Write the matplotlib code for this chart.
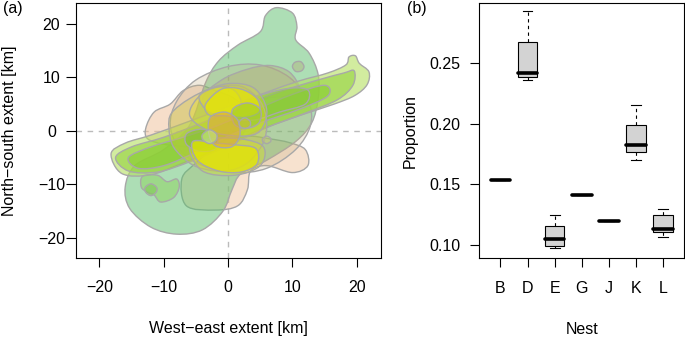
import numpy as np
import matplotlib
matplotlib.use("Agg")
import matplotlib.pyplot as plt
from matplotlib.path import Path
from matplotlib.patches import PathPatch

plt.rcParams['font.family'] = ['Liberation Sans', 'DejaVu Sans']
plt.rcParams['font.size'] = 11.5

# ---- panel (a): home-range outlines, control points in km
big_green_x = [7.5, 10.0, 10.7, 10.5, 12.6, 14.0, 14.0, 13.0, 10.5, 6.0, 2.0, 0.6, -0.8, -4.0, -8.0, -12.0, -15.3, -16.0, -14.5, -10.0, -6.0, -3.5, -1.5, 1.5, 5.0, 5.8]
big_green_y = [23.0, 22.0, 19.5, 17.0, 14.5, 10.5, 6.0, 1.5, -2.0, -5.5, -8.0, -11.0, -15.0, -18.5, -19.3, -18.0, -14.5, -10.5, -6.5, -3.5, 1.0, 9.0, 13.0, 16.0, 18.5, 21.5]

peach_a_x = [-12.8, -11.5, -9.0, -7.0, -4.5, -2.0, 1.0, 3.0, 2.0, -2.0, -6.0, -10.0, -12.5]
peach_a_y = [0.5, 3.5, 5.0, 7.5, 8.5, 7.5, 6.0, 3.0, -1.0, -3.0, -3.0, -2.5, -1.5]

peach_b_x = [-1.0, 3.0, 6.5, 9.5, 12.0, 12.4, 10.0, 6.0, 3.5, 3.0, 1.5, -2.0, -6.5, -7.2, -5.0]
peach_b_y = [-2.0, -1.0, -1.5, -2.2, -3.5, -6.5, -7.8, -6.5, -7.5, -11.0, -14.0, -14.8, -14.0, -9.0, -6.0]

tan_x = [-9.0, -8.0, -5.0, 0.0, 5.0, 9.5, 12.5, 12.8, 10.5, 6.0, 1.0, -4.0, -7.5]
tan_y = [1.0, 5.5, 9.5, 12.0, 12.3, 10.0, 5.5, 1.0, -3.5, -7.0, -7.8, -6.5, -3.5]

khaki_x = [-4.0, -1.0, 3.0, 6.5, 9.5, 11.0, 9.0, 6.0, 4.5, 2.0, -2.0]
khaki_y = [6.0, 9.5, 11.5, 12.2, 11.0, 8.0, 6.5, 6.0, 4.0, 2.0, 2.0]

knob_x = [10.0, 10.4, 11.3, 11.8, 11.4, 10.5]
knob_y = [12.0, 12.8, 12.9, 12.0, 11.2, 11.1]

lime_outer_x = [-18.2, -16.0, -12.0, -6.0, 0.0, 6.0, 11.0, 15.5, 18.3, 18.8, 19.8, 20.4, 21.9, 21.6, 19.7, 16.5, 11.0, 5.0, -1.0, -7.0, -12.0, -16.5]
lime_outer_y = [-4.3, -2.3, -0.8, 1.8, 4.5, 7.2, 9.3, 10.8, 12.3, 13.8, 14.0, 12.6, 11.0, 8.6, 6.6, 5.0, 2.8, 0.2, -3.0, -6.0, -8.2, -8.0]

lime_mid_x = [-17.5, -15.0, -10.0, -4.0, 2.0, 8.0, 14.0, 18.0, 19.6, 19.4, 17.0, 12.0, 6.0, 0.0, -6.0, -11.0, -15.5]
lime_mid_y = [-5.0, -3.0, -1.2, 1.5, 4.5, 7.3, 9.5, 10.8, 11.2, 8.5, 5.8, 3.3, 0.6, -2.8, -5.8, -7.7, -7.5]

lime_inner_x = [-15.5, -12.0, -7.0, -2.0, 4.0, 10.0, 15.0, 15.5, 11.0, 5.0, 0.0, -5.0, -10.0, -14.0]
lime_inner_y = [-5.0, -3.0, -1.2, 0.8, 3.8, 6.8, 8.5, 6.5, 4.0, 1.5, -1.0, -4.0, -6.5, -7.0]

band_x = [1.5, 6.0, 10.0, 12.5, 12.0, 8.0, 4.0, 0.5]
band_y = [5.0, 7.0, 8.0, 7.5, 5.0, 3.5, 2.0, 2.5]

small_green_x = [-13.3, -11.0, -9.5, -8.0, -7.6, -8.5, -10.5, -11.5, -12.5, -13.5]
small_green_y = [-8.5, -8.3, -9.5, -9.0, -10.5, -12.5, -13.3, -12.0, -11.5, -10.5]

dot_green_x = [-12.9, -12.0, -11.1, -11.2, -12.0, -12.8]
dot_green_y = [-10.6, -9.9, -10.6, -11.5, -12.1, -11.5]

cluster_x = [-8.8, -6.0, -2.3, 2.0, 5.0, 6.0, 5.4, 3.0, -0.2, -3.5, -6.0, -8.5, -9.2]
cluster_y = [3.3, 6.0, 8.0, 8.3, 5.5, 1.5, -2.4, -6.0, -7.5, -7.2, -6.0, -3.0, 0.5]

yellow_e_x = [-6.0, -4.0, 0.0, 4.0, 6.0, 5.0, 2.0, -3.0]
yellow_e_y = [3.0, 7.0, 8.8, 8.0, 4.0, 0.0, -1.0, 0.0]

yellow_f_x = [-6.0, -3.0, 2.0, 5.5, 5.0, 1.0, -4.0]
yellow_f_y = [-3.0, -1.5, -1.5, -3.0, -6.5, -8.3, -7.5]

yellow_a_x = [-3.5, -1.0, 2.0, 4.5, 4.8, 2.5, -0.5, -3.0]
yellow_a_y = [5.0, 7.8, 7.8, 6.0, 3.5, 2.5, 2.8, 3.0]

yellow_b_x = [-5.5, -2.0, 1.0, 4.3, 4.5, 2.0, -1.5, -4.8]
yellow_b_y = [-2.0, -2.3, -2.6, -3.3, -6.2, -7.7, -7.5, -5.5]

yellow_c_x = [-4.5, -1.5, 1.0, 2.0, 0.0, -3.0]
yellow_c_y = [6.5, 8.2, 7.5, 5.0, 3.0, 3.5]

lime_center_x = [0.7, 3.0, 5.0, 4.8, 3.0, 1.0]
lime_center_y = [4.0, 5.2, 4.0, 1.5, 0.5, 1.2]

orange_x = [-2.8, -0.5, 1.5, 1.8, 0.5, -2.0, -3.0]
orange_y = [2.5, 3.5, 2.0, -1.0, -3.0, -2.8, -0.5]

inner_green_x = [-6.4, -4.0, -1.8, -2.0, -4.5, -6.5]
inner_green_y = [-0.5, 0.3, -0.8, -3.4, -3.8, -2.5]

light_circle_x = [-4.0, -2.9, -1.8, -1.9, -2.9, -3.9]
light_circle_y = [-0.7, 0.2, -0.6, -1.8, -2.4, -1.7]

ring_a_x = [1.8, 2.6, 3.4, 3.4, 2.6, 1.8]
ring_a_y = [1.8, 2.4, 1.8, 0.9, 0.4, 0.9]

ring_b_x = [5.4, 6.0, 6.6, 6.6, 6.0, 5.4]
ring_b_y = [-1.4, -1.0, -1.4, -2.0, -2.4, -2.0]

shapes = [
    (peach_a_x, peach_a_y, '#efbf96', 0.5),
    (peach_b_x, peach_b_y, '#efbf96', 0.45),
    (big_green_x, big_green_y, '#5cbf6c', 0.5),
    (tan_x, tan_y, '#c0aa78', 0.25),
    (khaki_x, khaki_y, '#b5a36a', 0.35),
    (knob_x, knob_y, '#b5a36a', 0.35),
    (lime_outer_x, lime_outer_y, '#b5e060', 0.6),
    (lime_mid_x, lime_mid_y, '#94d23c', 0.6),
    (lime_inner_x, lime_inner_y, '#84cc2c', 0.55),
    (band_x, band_y, '#8cc83c', 0.5),
    (small_green_x, small_green_y, '#8fd45f', 0.5),
    (dot_green_x, dot_green_y, '#7cc84c', 0.5),
    (cluster_x, cluster_y, '#d0cc38', 0.35),
    (yellow_e_x, yellow_e_y, '#e6e600', 0.25),
    (yellow_f_x, yellow_f_y, '#e6e600', 0.3),
    (inner_green_x, inner_green_y, '#7cbc38', 0.5),
    (yellow_c_x, yellow_c_y, '#e2e030', 0.5),
    (yellow_a_x, yellow_a_y, '#e6e600', 0.65),
    (yellow_b_x, yellow_b_y, '#e6e600', 0.7),
    (lime_center_x, lime_center_y, '#98cc30', 0.5),
    (orange_x, orange_y, '#e0a840', 0.55),
    (light_circle_x, light_circle_y, '#c8e880', 0.6),
    (ring_a_x, ring_a_y, '#d8b840', 0.4),
    (ring_b_x, ring_b_y, '#d8d060', 0.3),
]

# ---- panel (b): proportion per nest
nests = ['B', 'D', 'E', 'G', 'J', 'K', 'L']
whis_lo = [0.1532, 0.2354, 0.0974, 0.1413, 0.1197, 0.1702, 0.1065]
q1 = [0.1532, 0.2379, 0.0993, 0.1413, 0.1197, 0.1763, 0.1106]
medians = [0.1532, 0.2418, 0.1048, 0.1413, 0.1197, 0.1826, 0.1136]
q3 = [0.1532, 0.2671, 0.1158, 0.1413, 0.1197, 0.1988, 0.1244]
whis_hi = [0.1532, 0.2923, 0.1246, 0.1413, 0.1197, 0.2153, 0.1301]


def smooth_path(xs, ys):
    # closed Catmull-Rom curve through the control points
    pts = np.column_stack([xs, ys])
    n = len(pts)
    verts = [pts[0]]
    codes = [Path.MOVETO]
    for i in range(n):
        p0, p1, p2, p3 = pts[i - 1], pts[i], pts[(i + 1) % n], pts[(i + 2) % n]
        verts += [p1 + (p2 - p0) / 6, p2 - (p3 - p1) / 6, p2]
        codes += [Path.CURVE4] * 3
    verts.append(pts[0])
    codes.append(Path.CLOSEPOLY)
    return Path(verts, codes)


fig = plt.figure(figsize=(6.85, 3.37), dpi=100)
ax1 = fig.add_axes([0.1105, 0.2353, 0.4455, 0.7547])
ax2 = fig.add_axes([0.6997, 0.2335, 0.2993, 0.7565])

ax1.axvline(0, color='#bbbbbb', lw=1, ls=(0, (4, 4)), zorder=0)
ax1.axhline(0, color='#bbbbbb', lw=1, ls=(0, (4, 4)), zorder=0)
for xs, ys, col, a in shapes:
    ax1.add_patch(PathPatch(smooth_path(xs, ys), facecolor=col, alpha=a,
                            edgecolor='none', zorder=1))
    ax1.add_patch(PathPatch(smooth_path(xs, ys), facecolor='none',
                            edgecolor='#a8a8a8', lw=1.0, zorder=1))

ax1.set_xlim(-23.7, 23.75)
ax1.set_ylim(-23.7, 23.8)
ax1.set_xticks([-20, -10, 0, 10, 20])
ax1.set_yticks([-20, -10, 0, 10, 20])
ax1.tick_params(axis='x', length=6.5, width=0.8, pad=9.5)
ax1.tick_params(axis='y', length=7, width=0.8, pad=10.5)
for lab in ax1.get_yticklabels():
    lab.set_ha('center')
ax1.set_xlabel('West\u2212east extent [km]', va='center')
ax1.set_ylabel('North\u2212south extent [km]', va='center')
ax1.xaxis.set_label_coords(0.5, -0.2775)
ax1.yaxis.set_label_coords(-0.218, 0.5)

stats = []
for i in range(len(nests)):
    stats.append(dict(label=nests[i], whislo=whis_lo[i], q1=q1[i], med=medians[i],
                      q3=q3[i], whishi=whis_hi[i], fliers=[]))
ax2.bxp(stats, positions=range(1, len(nests) + 1), widths=0.72, capwidths=0.36,
        patch_artist=True, showfliers=False,
        boxprops=dict(facecolor='#d3d3d3', edgecolor='black', lw=0.8),
        medianprops=dict(color='black', lw=2.6, solid_capstyle='round'),
        whiskerprops=dict(color='black', lw=0.8, linestyle=(0, (3, 3))),
        capprops=dict(color='black', lw=0.8))
ax2.set_xlim(0.22, 7.78)
ax2.set_ylim(0.0892, 0.2988)
ax2.set_yticks([0.10, 0.15, 0.20, 0.25])
ax2.set_yticklabels(['0.10', '0.15', '0.20', '0.25'])
ax2.tick_params(axis='x', length=6.5, width=0.8, pad=9.5)
ax2.tick_params(axis='y', length=6.5, width=0.8, pad=7)
ax2.set_xlabel('Nest', va='center')
ax2.set_ylabel('Proportion', va='center')
ax2.xaxis.set_label_coords(0.5, -0.2775)
ax2.yaxis.set_label_coords(-0.335, 0.5)

for ax in (ax1, ax2):
    for sp in ax.spines.values():
        sp.set_linewidth(0.8)

fig.text(3 / 685, 1 - 8.5 / 337, '(a)', ha='left', va='center')
fig.text(407 / 685, 1 - 8.5 / 337, '(b)', ha='left', va='center')

fig.savefig('out.png', dpi=100)
